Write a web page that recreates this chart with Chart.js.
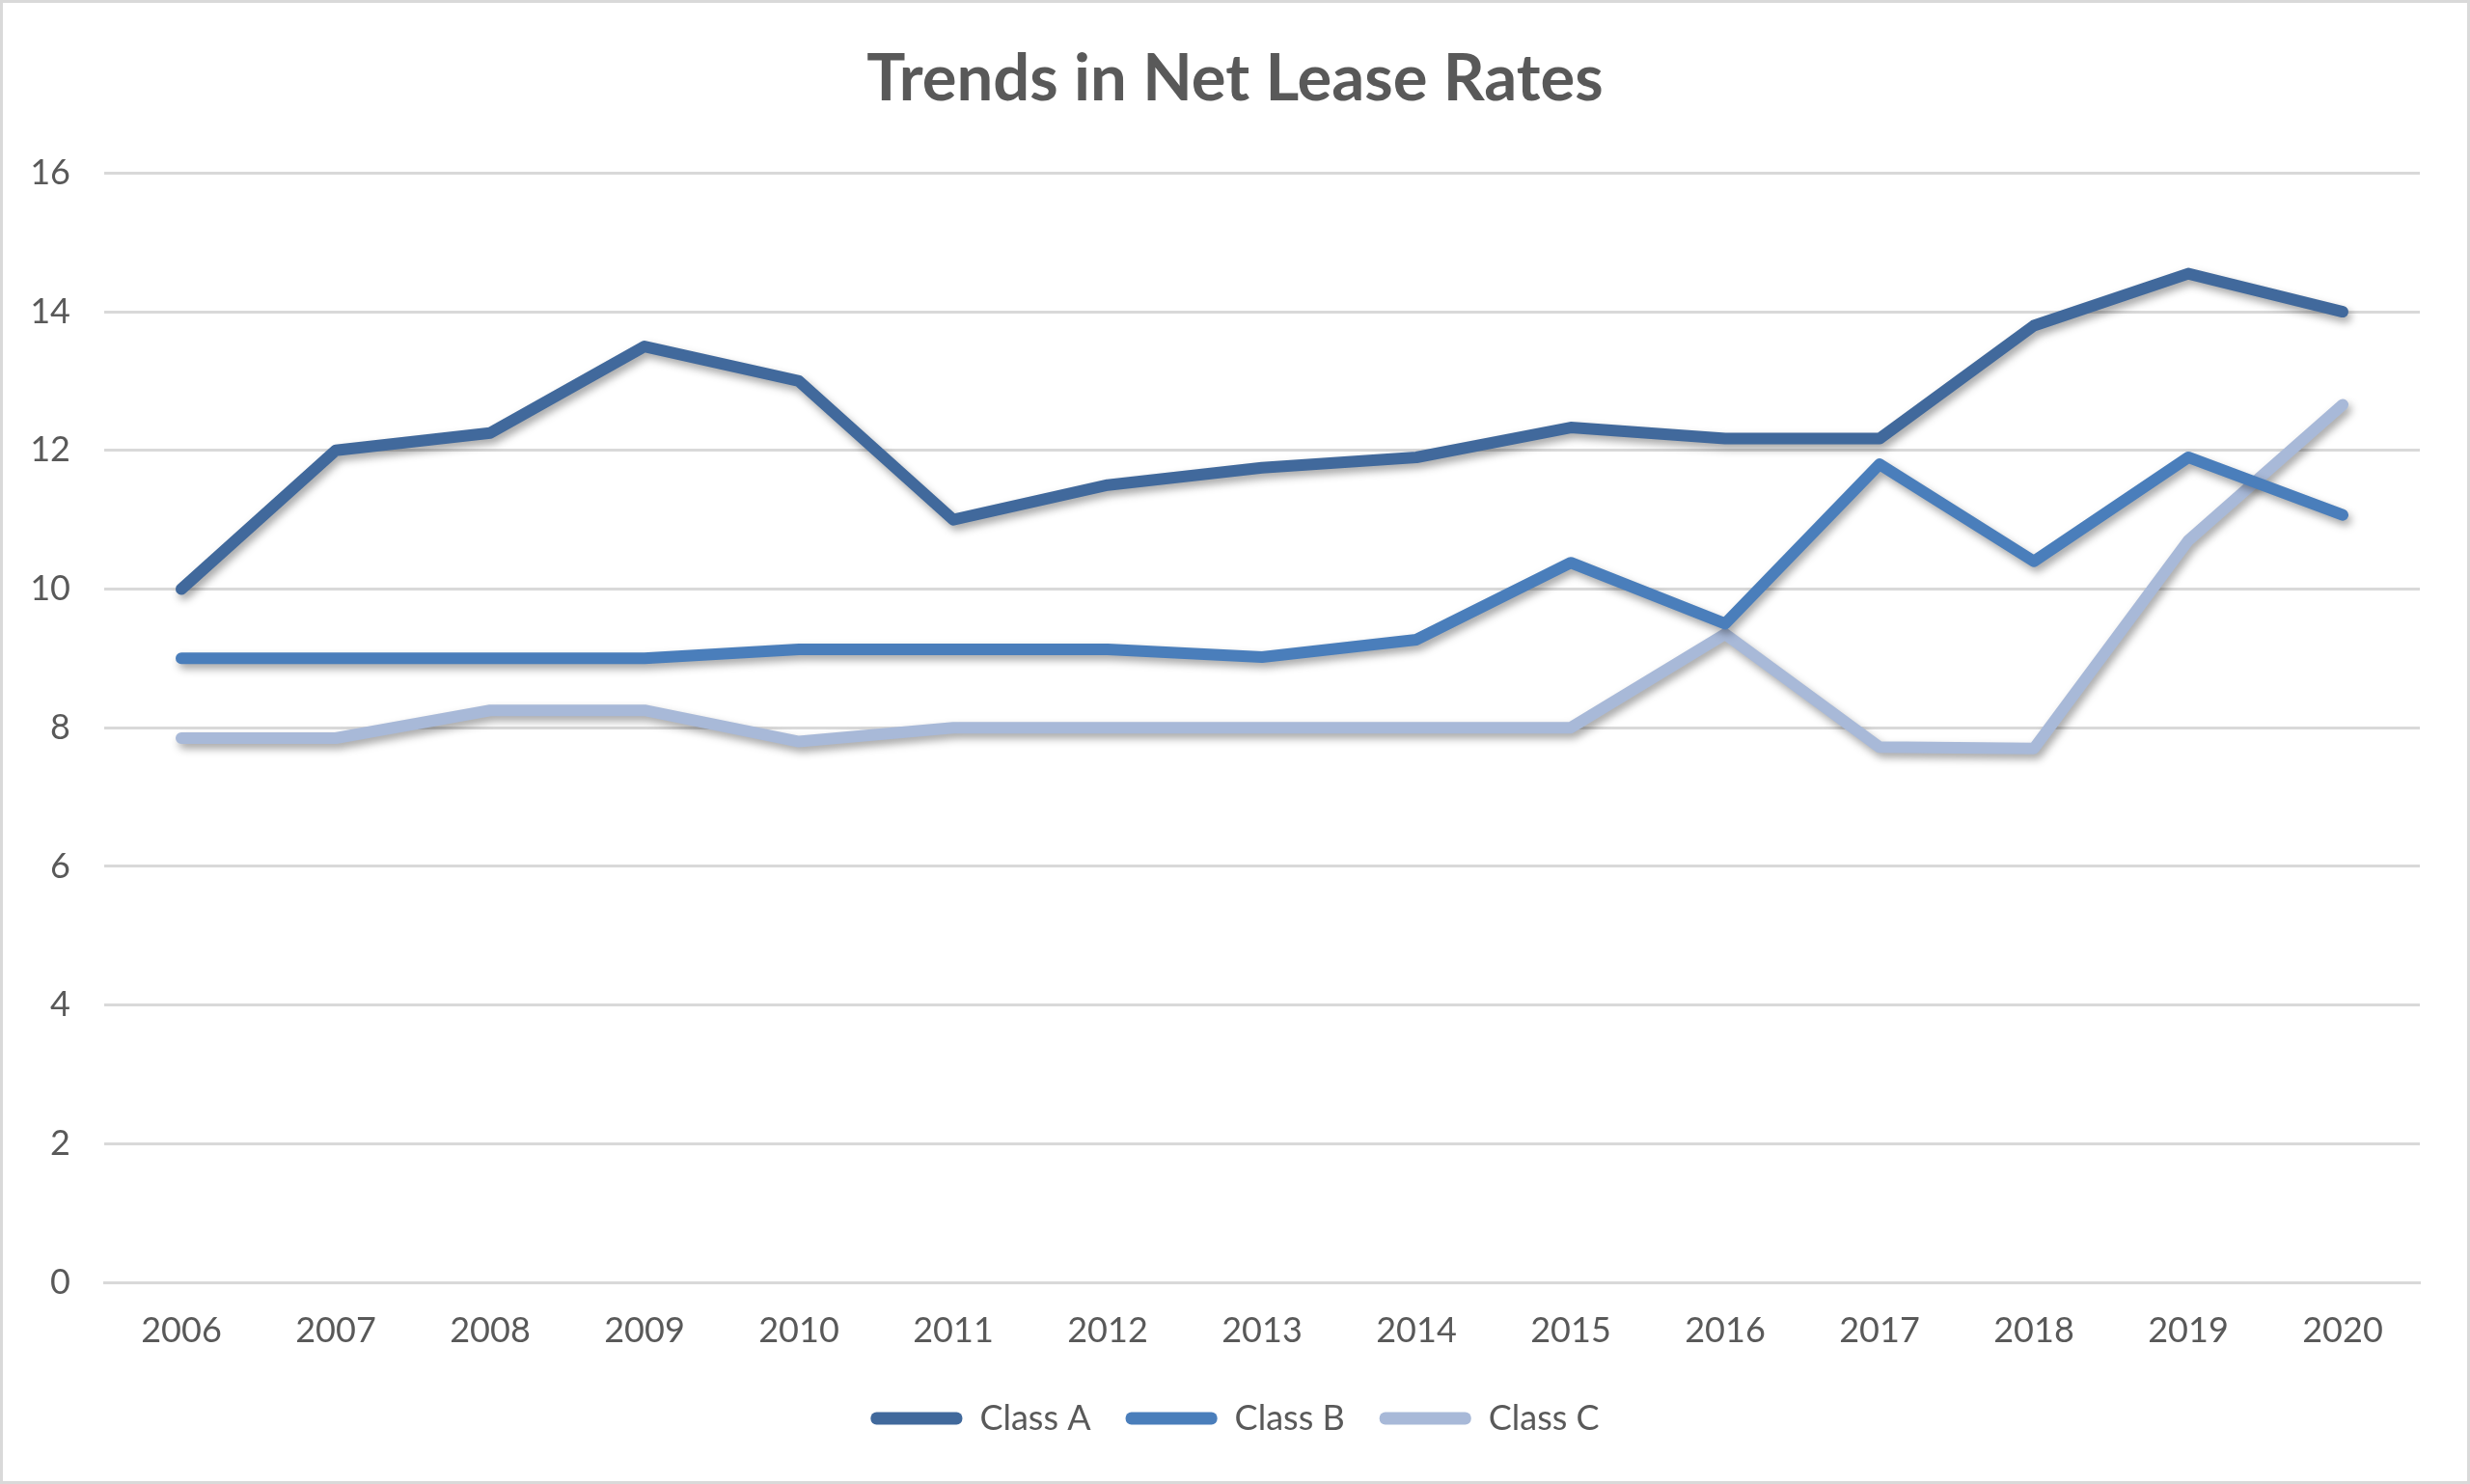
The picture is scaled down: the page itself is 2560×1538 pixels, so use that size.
<!DOCTYPE html>
<html>
<head>
<meta charset="utf-8">
<title>Trends in Net Lease Rates</title>
<script src="https://cdn.jsdelivr.net/npm/chart.js@4/dist/chart.umd.min.js"></script>
<style>
  html, body { margin: 0; padding: 0; background: #fff; }
  canvas { display: block; }
</style>
</head>
<body>
<canvas id="leaseChart" width="2560" height="1538"></canvas>
<script>
// values
var years = ['2006', '2007', '2008', '2009', '2010', '2011', '2012', '2013',
             '2014', '2015', '2016', '2017', '2018', '2019', '2020'];
var classA = [10, 12, 12.25, 13.5, 13, 11, 11.5, 11.75, 11.9, 12.33, 12.17, 12.17, 13.8, 14.55, 14];
var classB = [9, 9, 9, 9, 9.13, 9.13, 9.13, 9.02, 9.27, 10.38, 9.5, 11.8, 10.4, 11.9, 11.07];
var classC = [7.85, 7.85, 8.25, 8.25, 7.8, 8, 8, 8, 8, 8, 9.35, 7.72, 7.7, 10.7, 12.66];
var seriesNames = ['Class A', 'Class B', 'Class C'];
var yTicks = [0, 2, 4, 6, 8, 10, 12, 14, 16];

var colors = ['#41699c', '#4a7ebb', '#a8b9d8'];
var textGray = '#595959';
var gridGray = '#d9d9d9';

// soft drop shadow under each line, like the office chart
var lineShadow = {
    id: 'lineShadow',
    beforeDatasetDraw: function (chart) {
        var ctx = chart.ctx;
        ctx.save();
        ctx.shadowColor = 'rgba(0,0,0,0.35)';
        ctx.shadowBlur = 8;
        ctx.shadowOffsetX = 3;
        ctx.shadowOffsetY = 5;
    },
    afterDatasetDraw: function (chart) {
        chart.ctx.restore();
    }
};

var frame = {
    id: 'frame',
    afterLayout: function (chart) {
        // centre title and legend on the whole picture, not on the padded box
        if (chart.titleBlock) {
            chart.titleBlock.left = 0;
            chart.titleBlock.right = chart.width;
        }
        if (chart.legend) {
            chart.legend.left = 0;
            chart.legend.right = chart.width;
        }
    },
    beforeDraw: function (chart) {
        var ctx = chart.ctx;
        ctx.save();
        ctx.fillStyle = '#fff';
        ctx.fillRect(0, 0, chart.width, chart.height);
        ctx.restore();
    },
    afterDraw: function (chart) {
        var ctx = chart.ctx;
        ctx.save();
        ctx.strokeStyle = gridGray;
        ctx.lineWidth = 3;
        ctx.strokeRect(1.5, 1.5, chart.width - 3, chart.height - 3);
        ctx.restore();
    }
};

function makeSet(i, values) {
    return {
        label: seriesNames[i],
        data: values,
        borderColor: colors[i],
        backgroundColor: colors[i],
        borderWidth: 12,
        borderJoinStyle: 'round',
        borderCapStyle: 'round',
        pointRadius: 0,
        pointHoverRadius: 0,
        tension: 0
    };
}

var leaseChart = new Chart('leaseChart', {
    type: 'line',
    data: {
        labels: years,
        datasets: [makeSet(0, classA), makeSet(1, classB), makeSet(2, classC)]
    },
    plugins: [lineShadow, frame],
    options: {
        responsive: false,
        animation: false,
        devicePixelRatio: 1,
        layout: {
            padding: { top: 0, left: 12, right: 52, bottom: 40 }
        },
        plugins: {
            title: {
                display: true,
                text: 'Trends in Net Lease Rates',
                color: textGray,
                font: { family: 'Lato', size: 67, weight: 'bold', lineHeight: 1.2 },
                padding: { top: 42, bottom: 57 }
            },
            legend: {
                position: 'bottom',
                labels: {
                    color: textGray,
                    font: { family: 'Lato', size: 36 },
                    boxWidth: 95,
                    boxHeight: 13,
                    useBorderRadius: true,
                    borderRadius: 6,
                    padding: 36,
                    generateLabels: function (chart) {
                        var items = Chart.defaults.plugins.legend.labels.generateLabels(chart);
                        items.forEach(function (it) {
                            it.lineWidth = 0;
                            it.fillStyle = it.strokeStyle;
                        });
                        return items;
                    }
                }
            },
            tooltip: { enabled: false }
        },
        scales: {
            x: {
                offset: true,
                grid: { display: false, drawTicks: false },
                border: { display: true, color: gridGray, width: 3 },
                ticks: {
                    color: textGray,
                    font: { family: 'Lato', size: 36 },
                    padding: 29
                },
                afterFit: function (axis) { axis.height = 87; }
            },
            y: {
                min: 0,
                max: 16,
                afterBuildTicks: function (axis) {
                    axis.ticks = yTicks.map(function (v) { return { value: v }; });
                },
                grid: { color: gridGray, lineWidth: 3, drawTicks: false },
                border: { display: false },
                ticks: {
                    color: textGray,
                    font: { family: 'Lato', size: 36 },
                    padding: 35
                },
                afterFit: function (axis) { axis.width = 96; }
            }
        }
    }
});
</script>
</body>
</html>
